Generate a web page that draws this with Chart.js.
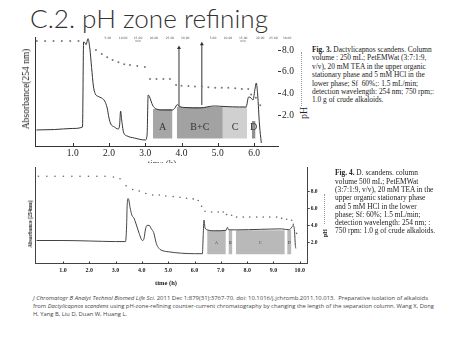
<!DOCTYPE html>
<html><head><meta charset="utf-8">
<script src="https://cdn.jsdelivr.net/npm/chart.js@4.4.0/dist/chart.umd.min.js"></script>
<style>
html,body{margin:0;padding:0;background:#fff;}
body{width:474px;height:355px;position:relative;overflow:hidden;}
.t{position:absolute;white-space:nowrap;}
#title{left:30px;top:3px;font-family:Lato,sans-serif;font-weight:300;font-size:26px;line-height:30px;color:#333;}
canvas{position:absolute;}
#c1{left:0;top:30px;z-index:1;}
#c2{left:0;top:163px;background:#fff;z-index:3;}
.cap{font-family:"Liberation Serif",serif;font-size:7.4px;line-height:8px;color:#222;}
.cit{font-family:"Open Sans",sans-serif;font-size:5.4px;line-height:7px;color:#444;}
.rot{transform-origin:center center;}
.dotl{position:absolute;width:0;border-left:1px dotted #999;}
</style></head>
<body>
<div id="title" class="t" data-w="238">C.2. pH zone refining</div>

<canvas id="c1" width="310" height="140"></canvas>
<div class="t" style="left:162px;top:163px;transform:translate(-50%,-50%);font-family:'Liberation Serif',serif;font-size:9px;color:#444;z-index:2">time (h)</div>
<div class="t" style="left:26px;top:89px;transform:translate(-50%,-50%) rotate(-90deg);font-family:'Liberation Serif',serif;font-size:9.5px;color:#222;z-index:2">Absorbance(254 nm)</div>
<div class="dotl" style="left:301px;top:52px;height:54px;"></div>
<div class="t" style="left:303px;top:113px;transform:translate(-50%,-50%) rotate(-90deg);font-family:'Liberation Serif',serif;font-size:10px;color:#222;">pH</div>

<canvas id="c2" width="340" height="127"></canvas>
<div class="t" style="left:30px;top:224px;transform:translate(-50%,-50%) rotate(-90deg);font-family:'Liberation Serif',serif;font-weight:bold;font-size:5.3px;color:#222;z-index:4">Absorbance (254nm)</div>
<div class="t" style="left:166px;top:282px;transform:translate(-50%,-50%);font-family:'Liberation Serif',serif;font-weight:bold;font-size:6.5px;color:#222;z-index:4">time (h)</div>
<div class="dotl" style="left:324px;top:194px;height:30px;z-index:4"></div>
<div class="t" style="left:325px;top:233px;transform:translate(-50%,-50%) rotate(-90deg);font-family:'Liberation Serif',serif;font-weight:bold;font-size:6px;color:#222;z-index:4">pH</div>

<div class="t cap" style="left:312px;top:46px"><b>Fig. 3.</b> Dactylicapnos scandens. Column</div>
<div class="t cap" style="left:312px;top:54.4px">volume : 250 mL; PetEMWat (3:7:1:9,</div>
<div class="t cap" style="left:312px;top:62.8px">v/v), 20 mM TEA in the upper organic</div>
<div class="t cap" style="left:312px;top:71.2px">stationary phase and 5 mM HCl in the</div>
<div class="t cap" style="left:312px;top:79.6px">lower phase; Sf&nbsp; 60%;: 1.5 mL/min;</div>
<div class="t cap" style="left:312px;top:88px">detection wavelength: 254 nm; 750 rpm;:</div>
<div class="t cap" style="left:312px;top:96.4px">1.0 g of crude alkaloids.</div>

<div class="t cap" style="left:335px;top:169.3px;z-index:4"><b>Fig. 4.</b> D. scandens. column</div>
<div class="t cap" style="left:335px;top:177.6px;z-index:4">volume 500 mL; PetEMWat</div>
<div class="t cap" style="left:335px;top:185.9px;z-index:4">(3:7:1:9, v/v), 20 mM TEA in the</div>
<div class="t cap" style="left:335px;top:194.2px;z-index:4">upper organic stationary phase</div>
<div class="t cap" style="left:335px;top:202.5px;z-index:4">and 5 mM HCl in the lower</div>
<div class="t cap" style="left:335px;top:210.8px;z-index:4">phase; Sf: 60%; 1.5 mL/min;</div>
<div class="t cap" style="left:335px;top:219.1px;z-index:4">detection wavelength: 254 nm; :</div>
<div class="t cap" style="left:335px;top:227.4px;z-index:4">750 rpm: 1.0 g of crude alkaloids.</div>

<div class="t cit" data-w="395" style="left:33px;top:294.8px"><i>J Chromatogr B Analyt Technol Biomed Life Sci.</i> 2011 Dec 1;879(31):3767-70. doi: 10.1016/j.jchromb.2011.10.013.&nbsp; Preparative isolation of alkaloids</div>
<div class="t cit" data-w="401" style="left:33px;top:302.5px">from <i>Dactylicapnos scandens</i> using pH-zone-refining counter-current chromatography by changing the length of the separation column. Wang X, Dong</div>
<div class="t cit" data-w="94" style="left:33px;top:310.5px">H, Yang B, Liu D, Duan W, Huang L.</div>

<script>
// ---------- Fig. 3 data ----------
const c1Time = [0,0.5,1.0,1.27,1.30,1.33,1.37,1.42,1.47,1.52,1.57,1.62,1.70,1.80,1.88,1.95,2.00,2.05,2.15,2.25,2.29,2.32,2.35,2.40,2.50,2.70,3.00,3.05,3.08,3.12,3.20,3.30,3.50,3.75,3.82,3.88,3.95,4.10,4.50,4.90,5.20,5.60,5.78,5.85,5.92,5.97,6.03,6.06,6.10,6.15,6.20];
const c1Abs = [14.7,15.1,16.1,17.4,95.4,95,93,98.5,90,72,55,48,45.5,44,41.3,34.9,25.7,20.2,17.4,15.6,18.3,32.1,23.9,12.8,9.2,7.3,5.5,10,46.8,45,37.6,34,33,33,34.9,38,36.2,35.3,34.9,36.7,36.2,35.8,35.8,45,44,42.2,53.2,57.8,46.8,19.3,2.8];
const c1PhTime = [0.01,0.24,0.47,0.70,0.93,1.16,1.64,1.80,1.95,2.10,2.26,2.42,2.58,2.78,2.99,3.13,3.31,3.50,3.68,3.85,4.00,4.19,4.37,4.56,4.74,4.93,5.11,5.29,5.48,5.66,5.84,5.92,6.05,6.17];
const c1Ph = [8.84,8.84,8.84,8.84,8.84,8.84,8.0,7.64,7.33,7.08,6.87,6.69,6.62,6.53,6.43,5.33,5.33,5.33,5.33,4.77,4.71,4.68,4.62,4.62,4.56,4.52,4.52,4.52,4.47,4.4,4.4,3.9,3.6,2.9];
const c1Ticks = [1,2,3,4,5,6];
const c1PhTicks = [2,4,6,8];
const c1Zones = ['A','B+C','C','D'];
const c1ZoneStart = [3.21,3.87,5.14,5.94];
const c1ZoneEnd = [3.75,5.14,5.81,6.04];
const c1ZoneTop = [34,35.8,35.8,23];
const c1ZoneBottom = 6.9;
const c1ArrowTime = [3.93,4.56];
const c1ArrowFrom = [36,37.6];
const c1ArrowTo = [90,93.6];
const c1MinLabels = ['5.00','10.00','15.00','20.00','25.00','30.00','5.00','10.00','15.00','20.00','25.00','30.00'];
const c1MinTime = [1.97,2.39,2.80,3.24,3.68,4.10,4.87,5.28,5.70,6.17,6.53,6.91];

// ---------- Fig. 4 data ----------
const c2Time = [0,1.0,2.0,3.0,3.38,3.42,3.44,3.47,3.50,3.55,3.62,3.70,3.78,3.90,4.02,4.08,4.14,4.20,4.28,4.36,4.45,4.55,4.65,4.80,5.00,5.50,6.00,6.30,6.33,6.36,6.40,6.48,6.80,7.20,7.25,7.30,7.60,8.50,9.30,9.60,9.70,9.75,9.80,9.83,9.85];
const c2Abs = [23.9,23.9,23.4,22.8,22.8,39.1,59.4,67.5,66.5,58.4,50.3,47.2,41.1,31,23.9,25.9,36,39.6,39.6,36,32,20.8,15.7,13.2,12.2,10.7,10.2,10.2,28.9,45.2,37,35,34,34.5,37.6,35,35,35.5,36,35,38,39.6,33.5,18.8,15.7];
const c2PhTime = [0.07,0.39,0.70,1.02,1.34,1.65,1.97,2.29,2.60,2.92,3.17,3.40,3.65,3.90,4.15,4.41,4.66,4.91,5.19,5.45,5.70,5.95,6.14,6.27,6.40,6.65,6.90,7.09,7.22,7.41,7.60,7.85,8.10,8.36,8.61,8.86,9.12,9.31,9.50,9.69,9.75,9.88];
const c2Ph = [9.85,9.85,9.85,9.85,9.85,9.85,9.85,9.85,9.85,9.76,9.56,8.71,8.28,8.09,7.81,7.63,7.63,7.51,7.43,7.35,7.23,7.16,6.97,6.27,5.69,5.6,5.6,5.6,5.3,5.22,4.99,4.99,4.99,4.99,4.99,4.99,4.99,4.84,4.73,4.62,4.14,3.05];
const c2Ticks = [1,2,3,4,5,6,7,8,9,10];
const c2PhTicks = [2,4,6,8];
const c2Zones = ['A','B','C','D'];
const c2ZoneStart = [6.48,7.29,7.57,9.52];
const c2ZoneEnd = [7.19,7.44,9.43,9.68];
const c2ZoneTop = [34.5,34.5,34.5,34.5];
const c2ZoneBottom = 9.6;

Chart.defaults.font.family = "'Liberation Serif', serif";

const fixedTicks = vals => s => { s.ticks = vals.map(v => ({value: v})); };
const pts = (xs, ys) => xs.map((x, i) => ({x: x, y: ys[i]}));

const overlay = {
  id: 'overlay',
  afterDatasetsDraw(chart, args, o) {
    const ctx = chart.ctx, xs = chart.scales.x, ys = chart.scales.y, a = chart.chartArea;
    ctx.save();
    ctx.strokeStyle = '#333'; ctx.lineWidth = 1;
    o.ticks.forEach(v => {
      const px = Math.round(xs.getPixelForValue(v)) + 0.5;
      ctx.beginPath(); ctx.moveTo(px, a.bottom); ctx.lineTo(px, a.bottom - o.tickLen); ctx.stroke();
    });
    ctx.fillStyle = '#333'; ctx.textAlign = 'center'; ctx.textBaseline = 'middle';
    ctx.font = o.zoneFont;
    o.zones.forEach((z, i) => {
      ctx.fillText(z, xs.getPixelForValue((o.zs[i] + o.ze[i]) / 2), ys.getPixelForValue(o.zy));
    });
    if (o.min) {
      ctx.font = "3px 'DejaVu Sans', sans-serif"; ctx.fillStyle = '#555';
      o.min.forEach((l, i) => {
        const px = xs.getPixelForValue(o.minT[i]);
        ctx.fillText(l, px, a.top + 1.5);
        if (l === '15.00') ctx.fillText('min', px, a.top + 4.5);
      });
    }
    ctx.restore();
  }
};

function zoneSets(starts, ends, tops, bottom, colors) {
  return starts.map((s, i) => ({
    data: [{x: s, y: tops[i]}, {x: ends[i], y: tops[i]}],
    borderWidth: 0, borderColor: 'rgba(0,0,0,0)', pointRadius: 0,
    backgroundColor: colors[i], fill: {value: bottom}, order: 3, yAxisID: 'y'
  }));
}

new Chart(document.getElementById('c1'), {
  type: 'line',
  data: { datasets: [
    { data: pts(c1Time, c1Abs), borderColor: '#333', borderWidth: 1, pointRadius: 0, cubicInterpolationMode: 'monotone', order: 1, yAxisID: 'y' },
    { data: pts(c1PhTime, c1Ph), showLine: false, pointRadius: 1, pointBorderWidth: 0, pointBackgroundColor: '#777', order: 0, yAxisID: 'y2' },
    ...zoneSets(c1ZoneStart, c1ZoneEnd, c1ZoneTop, c1ZoneBottom, ['#a6a6a6', '#a2a2a2', '#d0d0d0', '#909090']),
    ...c1ArrowTime.map((t, i) => ({
      data: [{x: t, y: c1ArrowFrom[i]}, {x: t, y: c1ArrowTo[i]}],
      borderColor: '#333', borderWidth: 1, pointStyle: 'triangle',
      pointRadius: c => c.dataIndex === 1 ? 2.3 : 0, pointBorderWidth: 0,
      pointBackgroundColor: '#333', order: 1, yAxisID: 'y'
    }))
  ]},
  options: {
    responsive: false, animation: false, events: [],
    layout: { padding: { top: 7, left: 0, right: 0, bottom: 0 } },
    plugins: { legend: {display: false}, tooltip: {enabled: false},
      overlay: { ticks: c1Ticks, tickLen: 3, zones: c1Zones, zs: c1ZoneStart, ze: c1ZoneEnd, zy: 17,
        zoneFont: "10px 'Liberation Serif', serif", min: c1MinLabels, minT: c1MinTime } },
    scales: {
      x: { type: 'linear', min: -0.04, max: 6.66, afterFit: s => { s.height = 24; },
        afterBuildTicks: fixedTicks(c1Ticks),
        grid: {display: false, drawTicks: false}, border: {display: true, color: '#333'},
        ticks: {padding: 2, autoSkip: false, maxRotation: 0, color: '#222', font: {size: 9.5}, callback: v => v.toFixed(1)} },
      y: { position: 'left', min: 0, max: 100, afterFit: s => { s.width = 35; },
        ticks: {display: false}, grid: {display: false, drawTicks: false}, border: {display: true, color: '#333'} },
      y2: { position: 'right', min: -0.86, max: 9.2, afterFit: s => { s.width = 32; },
        afterBuildTicks: fixedTicks(c1PhTicks),
        grid: {display: true, drawOnChartArea: false, drawTicks: true, tickLength: 3, color: '#333'},
        border: {display: false},
        ticks: {padding: 1, color: '#222', font: {size: 9.5}, callback: v => v.toFixed(1)} }
    }
  },
  plugins: [overlay]
});

new Chart(document.getElementById('c2'), {
  type: 'line',
  data: { datasets: [
    { data: pts(c2Time, c2Abs), borderColor: '#444', borderWidth: 1, pointRadius: 0, cubicInterpolationMode: 'monotone', order: 1, yAxisID: 'y' },
    { data: pts(c2PhTime, c2Ph), showLine: false, pointRadius: 0.8, pointBorderWidth: 0, pointBackgroundColor: '#666', order: 0, yAxisID: 'y2' },
    ...zoneSets(c2ZoneStart, c2ZoneEnd, c2ZoneTop, c2ZoneBottom, ['#b9b9b9', '#b9b9b9', '#b9b9b9', '#b9b9b9'])
  ]},
  options: {
    responsive: false, animation: false, events: [],
    layout: { padding: { top: 2, left: 0, right: 0, bottom: 0 } },
    plugins: { legend: {display: false}, tooltip: {enabled: false},
      overlay: { ticks: c2Ticks, tickLen: 2, zones: c2Zones, zs: c2ZoneStart, ze: c2ZoneEnd, zy: 21,
        zoneFont: "4px 'Liberation Serif', serif" } },
    scales: {
      x: { type: 'linear', min: -0.06, max: 10.3, afterFit: s => { s.height = 26.5; },
        afterBuildTicks: fixedTicks(c2Ticks),
        grid: {display: false, drawTicks: false}, border: {display: true, color: '#444'},
        ticks: {padding: 3.5, autoSkip: false, maxRotation: 0, color: '#222', font: {size: 6, weight: 'bold'}, callback: v => v.toFixed(1)} },
      y: { position: 'left', min: 0, max: 100, afterFit: s => { s.width = 35; },
        ticks: {display: false}, grid: {display: false, drawTicks: false}, border: {display: true, color: '#444'} },
      y2: { position: 'right', min: -0.53, max: 10.92, afterFit: s => { s.width = 32.3; },
        afterBuildTicks: fixedTicks(c2PhTicks),
        grid: {display: true, drawOnChartArea: false, drawTicks: true, tickLength: 2, color: '#444'},
        border: {display: true, color: '#444'},
        ticks: {padding: 1, color: '#222', font: {size: 5.5, weight: 'bold'}, callback: v => v.toFixed(1)} }
    }
  },
  plugins: [overlay]
});

document.querySelectorAll('[data-w]').forEach(el => {
  const w = el.getBoundingClientRect().width;
  el.style.transformOrigin = 'left center';
  el.style.transform = 'scaleX(' + (parseFloat(el.dataset.w) / w) + ')';
});
</script>
</body></html>
